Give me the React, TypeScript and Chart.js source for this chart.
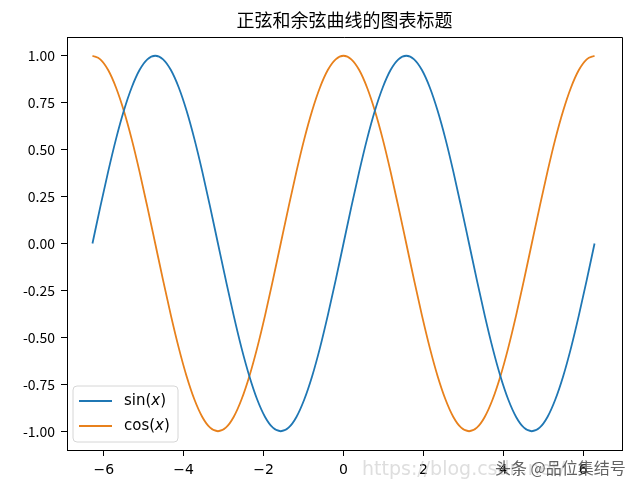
import { useEffect, useRef } from 'react';
import Chart from 'chart.js/auto';

// x samples from -2π to 2π (step π/16)
const xValues = [
    -6.283, -6.087, -5.890, -5.694, -5.498, -5.301, -5.105, -4.909, -4.712, -4.516, -4.320,
    -4.123, -3.927, -3.731, -3.534, -3.338, -3.142, -2.945, -2.749, -2.553, -2.356, -2.160,
    -1.963, -1.767, -1.571, -1.374, -1.178, -0.982, -0.785, -0.589, -0.393, -0.196, 0,
    0.196, 0.393, 0.589, 0.785, 0.982, 1.178, 1.374, 1.571, 1.767, 1.963, 2.160, 2.356,
    2.553, 2.749, 2.945, 3.142, 3.338, 3.534, 3.731, 3.927, 4.123, 4.320, 4.516, 4.712,
    4.909, 5.105, 5.301, 5.498, 5.694, 5.890, 6.087, 6.283,
];

const sinValues = [
    0, 0.195, 0.383, 0.556, 0.707, 0.831, 0.924, 0.981, 1, 0.981, 0.924, 0.831, 0.707, 0.556, 0.383, 0.195, 0,
    -0.195, -0.383, -0.556, -0.707, -0.831, -0.924, -0.981, -1, -0.981, -0.924, -0.831, -0.707, -0.556, -0.383, -0.195, 0,
    0.195, 0.383, 0.556, 0.707, 0.831, 0.924, 0.981, 1, 0.981, 0.924, 0.831, 0.707, 0.556, 0.383, 0.195, 0,
    -0.195, -0.383, -0.556, -0.707, -0.831, -0.924, -0.981, -1, -0.981, -0.924, -0.831, -0.707, -0.556, -0.383, -0.195, 0,
];

const cosValues = [
    1, 0.981, 0.924, 0.831, 0.707, 0.556, 0.383, 0.195, 0, -0.195, -0.383, -0.556, -0.707, -0.831, -0.924, -0.981, -1,
    -0.981, -0.924, -0.831, -0.707, -0.556, -0.383, -0.195, 0, 0.195, 0.383, 0.556, 0.707, 0.831, 0.924, 0.981, 1,
    0.981, 0.924, 0.831, 0.707, 0.556, 0.383, 0.195, 0, -0.195, -0.383, -0.556, -0.707, -0.831, -0.924, -0.981, -1,
    -0.981, -0.924, -0.831, -0.707, -0.556, -0.383, -0.195, 0, 0.195, 0.383, 0.556, 0.707, 0.831, 0.924, 0.981, 1,
];

const xTicks = [-6, -4, -2, 0, 2, 4, 6];
const yTicks = [-1, -0.75, -0.5, -0.25, 0, 0.25, 0.5, 0.75, 1];

const chartTitle = '正弦和余弦曲线的图表标题';
const seriesNames = ['sin', 'cos'];
const seriesColors = ['#1f77b4', '#e8811c'];

// Draws the frame, title, legend (with italic x) and the watermark
const decorations = {
    id: 'decorations',
    afterDraw(chart: Chart) {
        const { ctx, chartArea } = chart;
        const { left, right, top, bottom } = chartArea;
        ctx.save();

        // top and right spines
        ctx.strokeStyle = '#000';
        ctx.lineWidth = 1;
        ctx.beginPath();
        ctx.moveTo(left, top + 0.5);
        ctx.lineTo(right + 0.5, top + 0.5);
        ctx.lineTo(right + 0.5, bottom);
        ctx.stroke();

        // title
        ctx.fillStyle = '#000';
        ctx.font = '18px "Noto Sans CJK SC"';
        ctx.textAlign = 'center';
        ctx.textBaseline = 'middle';
        ctx.fillText(chartTitle, (left + right) / 2, 20);

        // legend box
        const bx = 73, by = 386, bw = 105, bh = 56, r = 4;
        ctx.beginPath();
        ctx.moveTo(bx + r, by);
        ctx.arcTo(bx + bw, by, bx + bw, by + bh, r);
        ctx.arcTo(bx + bw, by + bh, bx, by + bh, r);
        ctx.arcTo(bx, by + bh, bx, by, r);
        ctx.arcTo(bx, by, bx + bw, by, r);
        ctx.closePath();
        ctx.fillStyle = 'rgba(255,255,255,0.8)';
        ctx.fill();
        ctx.strokeStyle = '#d6d6d6';
        ctx.stroke();

        seriesNames.forEach((name, i) => {
            const ly = 401 + i * 25;
            ctx.strokeStyle = seriesColors[i];
            ctx.lineWidth = 1.8;
            ctx.beginPath();
            ctx.moveTo(79, ly);
            ctx.lineTo(112, ly);
            ctx.stroke();

            ctx.fillStyle = '#000';
            ctx.textAlign = 'left';
            ctx.textBaseline = 'middle';
            let tx = 124;
            const parts: [string, boolean][] = [[name + '(', false], ['x', true], [')', false]];
            parts.forEach(([txt, italic]) => {
                ctx.font = (italic ? 'italic ' : '') + '15px "DejaVu Sans"';
                ctx.fillText(txt, tx, ly);
                tx += ctx.measureText(txt).width;
            });
        });

        // watermark
        ctx.font = '19px "DejaVu Sans"';
        ctx.fillStyle = 'rgba(200,200,200,0.6)';
        ctx.textAlign = 'left';
        ctx.fillText('https://blog.csdn.net/', 362, 470);
        ctx.font = '16px "Noto Sans CJK SC"';
        ctx.fillStyle = 'rgba(70,70,70,0.85)';
        ctx.fillText('头条 @品位集结号', 495, 468);

        ctx.restore();
    },
};

const App = () => {
    const chartRef = useRef<HTMLCanvasElement>(null);

    useEffect(() => {
        document.body.style.margin = '0';
        if (!chartRef.current) return;
        const ctx = chartRef.current.getContext('2d');
        if (!ctx) return;

        const series = [sinValues, cosValues];
        const myChart = new Chart(ctx, {
            type: 'scatter',
            data: {
                datasets: series.map((vals, i) => ({
                    label: seriesNames[i] + '(x)',
                    data: xValues.map((x, j) => ({ x, y: vals[j] })),
                    showLine: true,
                    borderColor: seriesColors[i],
                    backgroundColor: seriesColors[i],
                    borderWidth: 1.8,
                    pointRadius: 0,
                    cubicInterpolationMode: 'monotone',
                })),
            },
            options: {
                animation: false,
                responsive: false,
                layout: { padding: { top: 37, right: 18, left: 0, bottom: 0 } },
                plugins: {
                    legend: { display: false },
                    title: { display: false },
                    tooltip: { enabled: false },
                },
                scales: {
                    x: {
                        type: 'linear',
                        min: -6.92,
                        max: 6.97,
                        afterBuildTicks: (scale: any) => {
                            scale.ticks = xTicks.map((v) => ({ value: v }));
                        },
                        afterFit: (scale: any) => {
                            scale.height = 40;
                        },
                        grid: { drawOnChartArea: false, drawTicks: true, tickLength: 6, color: '#000' },
                        border: { display: true, color: '#000', width: 1 },
                        ticks: {
                            color: '#000',
                            padding: 6,
                            maxRotation: 0,
                            font: { family: '"DejaVu Sans"', size: 14 },
                            callback: (v: any) => (v < 0 ? '\u2212' + Math.abs(v) : String(v)),
                        },
                    },
                    y: {
                        type: 'linear',
                        min: -1.1,
                        max: 1.1,
                        afterBuildTicks: (scale: any) => {
                            scale.ticks = yTicks.map((v) => ({ value: v }));
                        },
                        afterFit: (scale: any) => {
                            scale.width = 67;
                        },
                        grid: { drawOnChartArea: false, drawTicks: true, tickLength: 6, color: '#000' },
                        border: { display: true, color: '#000', width: 1 },
                        ticks: {
                            color: '#000',
                            padding: 6,
                            font: { family: '"Noto Sans CJK SC"', size: 14 },
                            callback: (v: any) => Number(v).toFixed(2),
                        },
                    },
                },
            },
            plugins: [decorations],
        });

        return () => {
            myChart.destroy();
        };
    }, []);

    return (
        <div style={{ width: 640, height: 490, background: '#fff' }}>
            <canvas ref={chartRef} width={640} height={490} />
        </div>
    );
};

export default App;
